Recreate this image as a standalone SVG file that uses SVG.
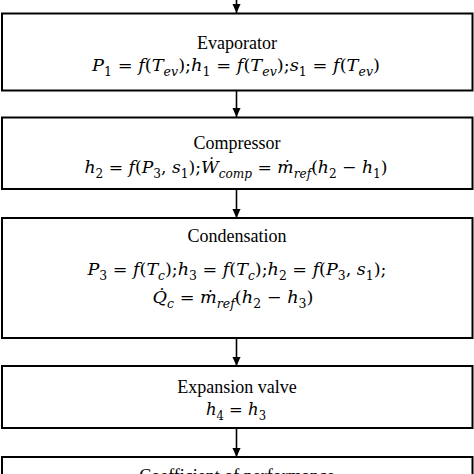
<svg xmlns="http://www.w3.org/2000/svg" width="474" height="474" viewBox="0 0 474 474">
<style>
.box{fill:#fff;stroke:#000;stroke-width:2}
.t{font-family:"Liberation Serif","Times New Roman",serif;font-size:18px;fill:#000;text-anchor:middle}
.m{font-family:"DejaVu Serif","Liberation Serif",serif;font-size:17px;fill:#000;text-anchor:middle}
.i{font-style:italic}
.s{font-size:12px}
.conn{stroke:#000;stroke-width:1.6;fill:none;marker-end:url(#ah)}
</style>
<defs>
<marker id="ah" viewBox="0 0 10 10" refX="10" refY="5" markerWidth="9" markerHeight="9" markerUnits="userSpaceOnUse" orient="auto">
<path d="M0,0.5 L10,5 L0,9.5 Z" fill="#000"/>
</marker>
</defs>
<rect width="474" height="474" fill="#fff"/>
<g id="connectors">
<line class="conn" x1="236.5" y1="0" x2="236.5" y2="13"/>
<line class="conn" x1="236.5" y1="91" x2="236.5" y2="117"/>
<line class="conn" x1="236.5" y1="189" x2="236.5" y2="218"/>
<line class="conn" x1="236.5" y1="338" x2="236.5" y2="366"/>
<line class="conn" x1="236.5" y1="428" x2="236.5" y2="457"/>
</g>
<g id="evaporator">
<rect class="box" x="2" y="13.5" width="470.5" height="77"/>
<text class="t" x="237" y="49">Evaporator</text>
<text class="m" x="236" y="71" textLength="288" lengthAdjust="spacingAndGlyphs"><tspan class="i">P</tspan><tspan class="s" dy="4.5">1</tspan><tspan dy="-4.5"> = </tspan><tspan class="i">f</tspan>(<tspan class="i">T</tspan><tspan class="s i" dy="4.5">ev</tspan><tspan dy="-4.5">);</tspan><tspan class="i">h</tspan><tspan class="s" dy="4.5">1</tspan><tspan dy="-4.5"> = </tspan><tspan class="i">f</tspan>(<tspan class="i">T</tspan><tspan class="s i" dy="4.5">ev</tspan><tspan dy="-4.5">);</tspan><tspan class="i">s</tspan><tspan class="s" dy="4.5">1</tspan><tspan dy="-4.5"> = </tspan><tspan class="i">f</tspan>(<tspan class="i">T</tspan><tspan class="s i" dy="4.5">ev</tspan><tspan dy="-4.5">)</tspan></text>
</g>
<g id="compressor">
<rect class="box" x="2" y="117.5" width="470.5" height="71.5"/>
<text class="t" x="237" y="149">Compressor</text>
<text class="m" x="236" y="173" textLength="303" lengthAdjust="spacingAndGlyphs"><tspan class="i">h</tspan><tspan class="s" dy="4.5">2</tspan><tspan dy="-4.5"> = </tspan><tspan class="i">f</tspan>(<tspan class="i">P</tspan><tspan class="s" dy="4.5">3</tspan><tspan dy="-4.5">, </tspan><tspan class="i">s</tspan><tspan class="s" dy="4.5">1</tspan><tspan dy="-4.5">);</tspan><tspan class="i">Ẇ</tspan><tspan class="s i" dy="4.5">comp</tspan><tspan dy="-4.5"> = </tspan><tspan class="i">ṁ</tspan><tspan class="s i" dy="4.5">ref</tspan><tspan dy="-4.5">(</tspan><tspan class="i">h</tspan><tspan class="s" dy="4.5">2</tspan><tspan dy="-4.5"> − </tspan><tspan class="i">h</tspan><tspan class="s" dy="4.5">1</tspan><tspan dy="-4.5">)</tspan></text>
</g>
<g id="condensation">
<rect class="box" x="2" y="218" width="470.5" height="120"/>
<text class="t" x="237" y="242">Condensation</text>
<text class="m" x="237" y="275" textLength="299" lengthAdjust="spacingAndGlyphs"><tspan class="i">P</tspan><tspan class="s" dy="4.5">3</tspan><tspan dy="-4.5"> = </tspan><tspan class="i">f</tspan>(<tspan class="i">T</tspan><tspan class="s i" dy="4.5">c</tspan><tspan dy="-4.5">);</tspan><tspan class="i">h</tspan><tspan class="s" dy="4.5">3</tspan><tspan dy="-4.5"> = </tspan><tspan class="i">f</tspan>(<tspan class="i">T</tspan><tspan class="s i" dy="4.5">c</tspan><tspan dy="-4.5">);</tspan><tspan class="i">h</tspan><tspan class="s" dy="4.5">2</tspan><tspan dy="-4.5"> = </tspan><tspan class="i">f</tspan>(<tspan class="i">P</tspan><tspan class="s" dy="4.5">3</tspan><tspan dy="-4.5">, </tspan><tspan class="i">s</tspan><tspan class="s" dy="4.5">1</tspan><tspan dy="-4.5">);</tspan></text>
<text class="m" x="233" y="303" textLength="161" lengthAdjust="spacingAndGlyphs"><tspan class="i">Q̇</tspan><tspan class="s i" dy="4.5">c</tspan><tspan dy="-4.5"> = </tspan><tspan class="i">ṁ</tspan><tspan class="s i" dy="4.5">ref</tspan><tspan dy="-4.5">(</tspan><tspan class="i">h</tspan><tspan class="s" dy="4.5">2</tspan><tspan dy="-4.5"> − </tspan><tspan class="i">h</tspan><tspan class="s" dy="4.5">3</tspan><tspan dy="-4.5">)</tspan></text>
</g>
<g id="expansion">
<rect class="box" x="2" y="366" width="470.5" height="62"/>
<text class="t" x="237" y="393">Expansion valve</text>
<text class="m" x="236" y="415" textLength="60" lengthAdjust="spacingAndGlyphs"><tspan class="i">h</tspan><tspan class="s" dy="4.5">4</tspan><tspan dy="-4.5"> = </tspan><tspan class="i">h</tspan><tspan class="s" dy="4.5">3</tspan></text>
</g>
<g id="performance">
<rect class="box" x="2" y="457" width="470.5" height="40"/>
<text class="t" x="237" y="482">Coefficient of performance</text>
</g>
</svg>
